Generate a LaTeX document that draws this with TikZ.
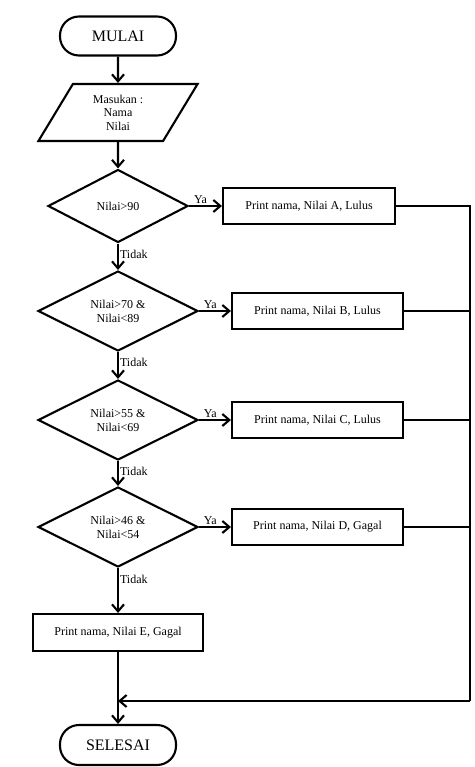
\documentclass[tikz,border=0pt]{standalone}
\usepackage{fontspec}
\setmainfont{Liberation Serif}
\usetikzlibrary{shapes.geometric, arrows.meta}

\tikzset{
	terminal/.style={draw, rounded corners=19pt, minimum width=116pt, minimum height=39pt, font=\fontsize{16}{18}\selectfont},
	io/.style={draw, trapezium, trapezium left angle=61.5, trapezium right angle=118.5, trapezium stretches=true, minimum width=160pt, minimum height=57pt, inner sep=0pt, align=center, font=\fontsize{12}{13.5}\selectfont},
	decision/.style={draw, diamond, minimum width=160pt, minimum height=80pt, inner sep=0pt, align=center, font=\fontsize{12}{14}\selectfont},
	process/.style={draw, rectangle, minimum width=171pt, minimum height=36pt, font=\fontsize{12}{14}\selectfont},
	flow/.style={-{Straight Barb[length=7pt,width=12pt]}},
	lbl/.style={font=\fontsize{12}{14}\selectfont, inner sep=1pt}
}

\begin{document}
\begin{tikzpicture}[x=1pt, y=-1pt, line width=2.1pt]
		\useasboundingbox (0,0) rectangle (474,767);
		\node[terminal] (start) at (118,36) {MULAI};
		\node[io] (input) at (118,112.5) {Masukan :\\Nama\\Nilai};
		\node[decision, minimum width=140pt, minimum height=73pt] (d1) at (118,206) {Nilai>90};
		\node[decision] (d2) at (118,311) {Nilai>70 \&\\Nilai<89};
		\node[decision] (d3) at (118,420) {Nilai>55 \&\\Nilai<69};
		\node[decision] (d4) at (118,527) {Nilai>46 \&\\Nilai<54};
		\node[process, minimum width=172pt] (pa) at (309,206) {Print nama, Nilai A, Lulus};
		\node[process] (pb) at (317.5,311) {Print nama, Nilai B, Lulus};
		\node[process] (pc) at (317.5,420) {Print nama, Nilai C, Lulus};
		\node[process] (pd) at (317.5,527) {Print nama, Nilai D, Gagal};
		\node[process, minimum width=170pt, minimum height=37pt] (pe) at (118,632.5) {Print nama, Nilai E, Gagal};
		\node[terminal, minimum height=40pt] (stop) at (118,745) {SELESAI};
		\coordinate (rail) at (470,701);
		\coordinate (join) at (118,701);

		\draw[flow] (start) -- (input);
		\draw[flow] (input) -- (d1);
		\draw[flow] (d1) -- node[lbl, right, pos=0.4] {Tidak} (d2);
		\draw[flow] (d2) -- node[lbl, right, pos=0.4] {Tidak} (d3);
		\draw[flow] (d3) -- node[lbl, right, pos=0.4] {Tidak} (d4);
		\draw[flow] (d4) -- node[lbl, right, pos=0.25] {Tidak} (pe);
		\draw[flow] (d1.east) -- node[lbl, above, pos=0.35] {Ya} (pa.west);
		\draw[flow] (d2.east) -- node[lbl, above, pos=0.35] {Ya} (pb.west);
		\draw[flow] (d3.east) -- node[lbl, above, pos=0.35] {Ya} (pc.west);
		\draw[flow] (d4.east) -- node[lbl, above, pos=0.35] {Ya} (pd.west);
		% jalur kembali ke selesai
		\draw (pa.east) -| (rail);
		\draw (pb.east) -- (pb.east -| rail);
		\draw (pc.east) -- (pc.east -| rail);
		\draw (pd.east) -- (pd.east -| rail);
		\draw[flow] (rail) -- (join);
		\draw[flow] (pe) -- (stop);
	\end{tikzpicture}
\end{document}
